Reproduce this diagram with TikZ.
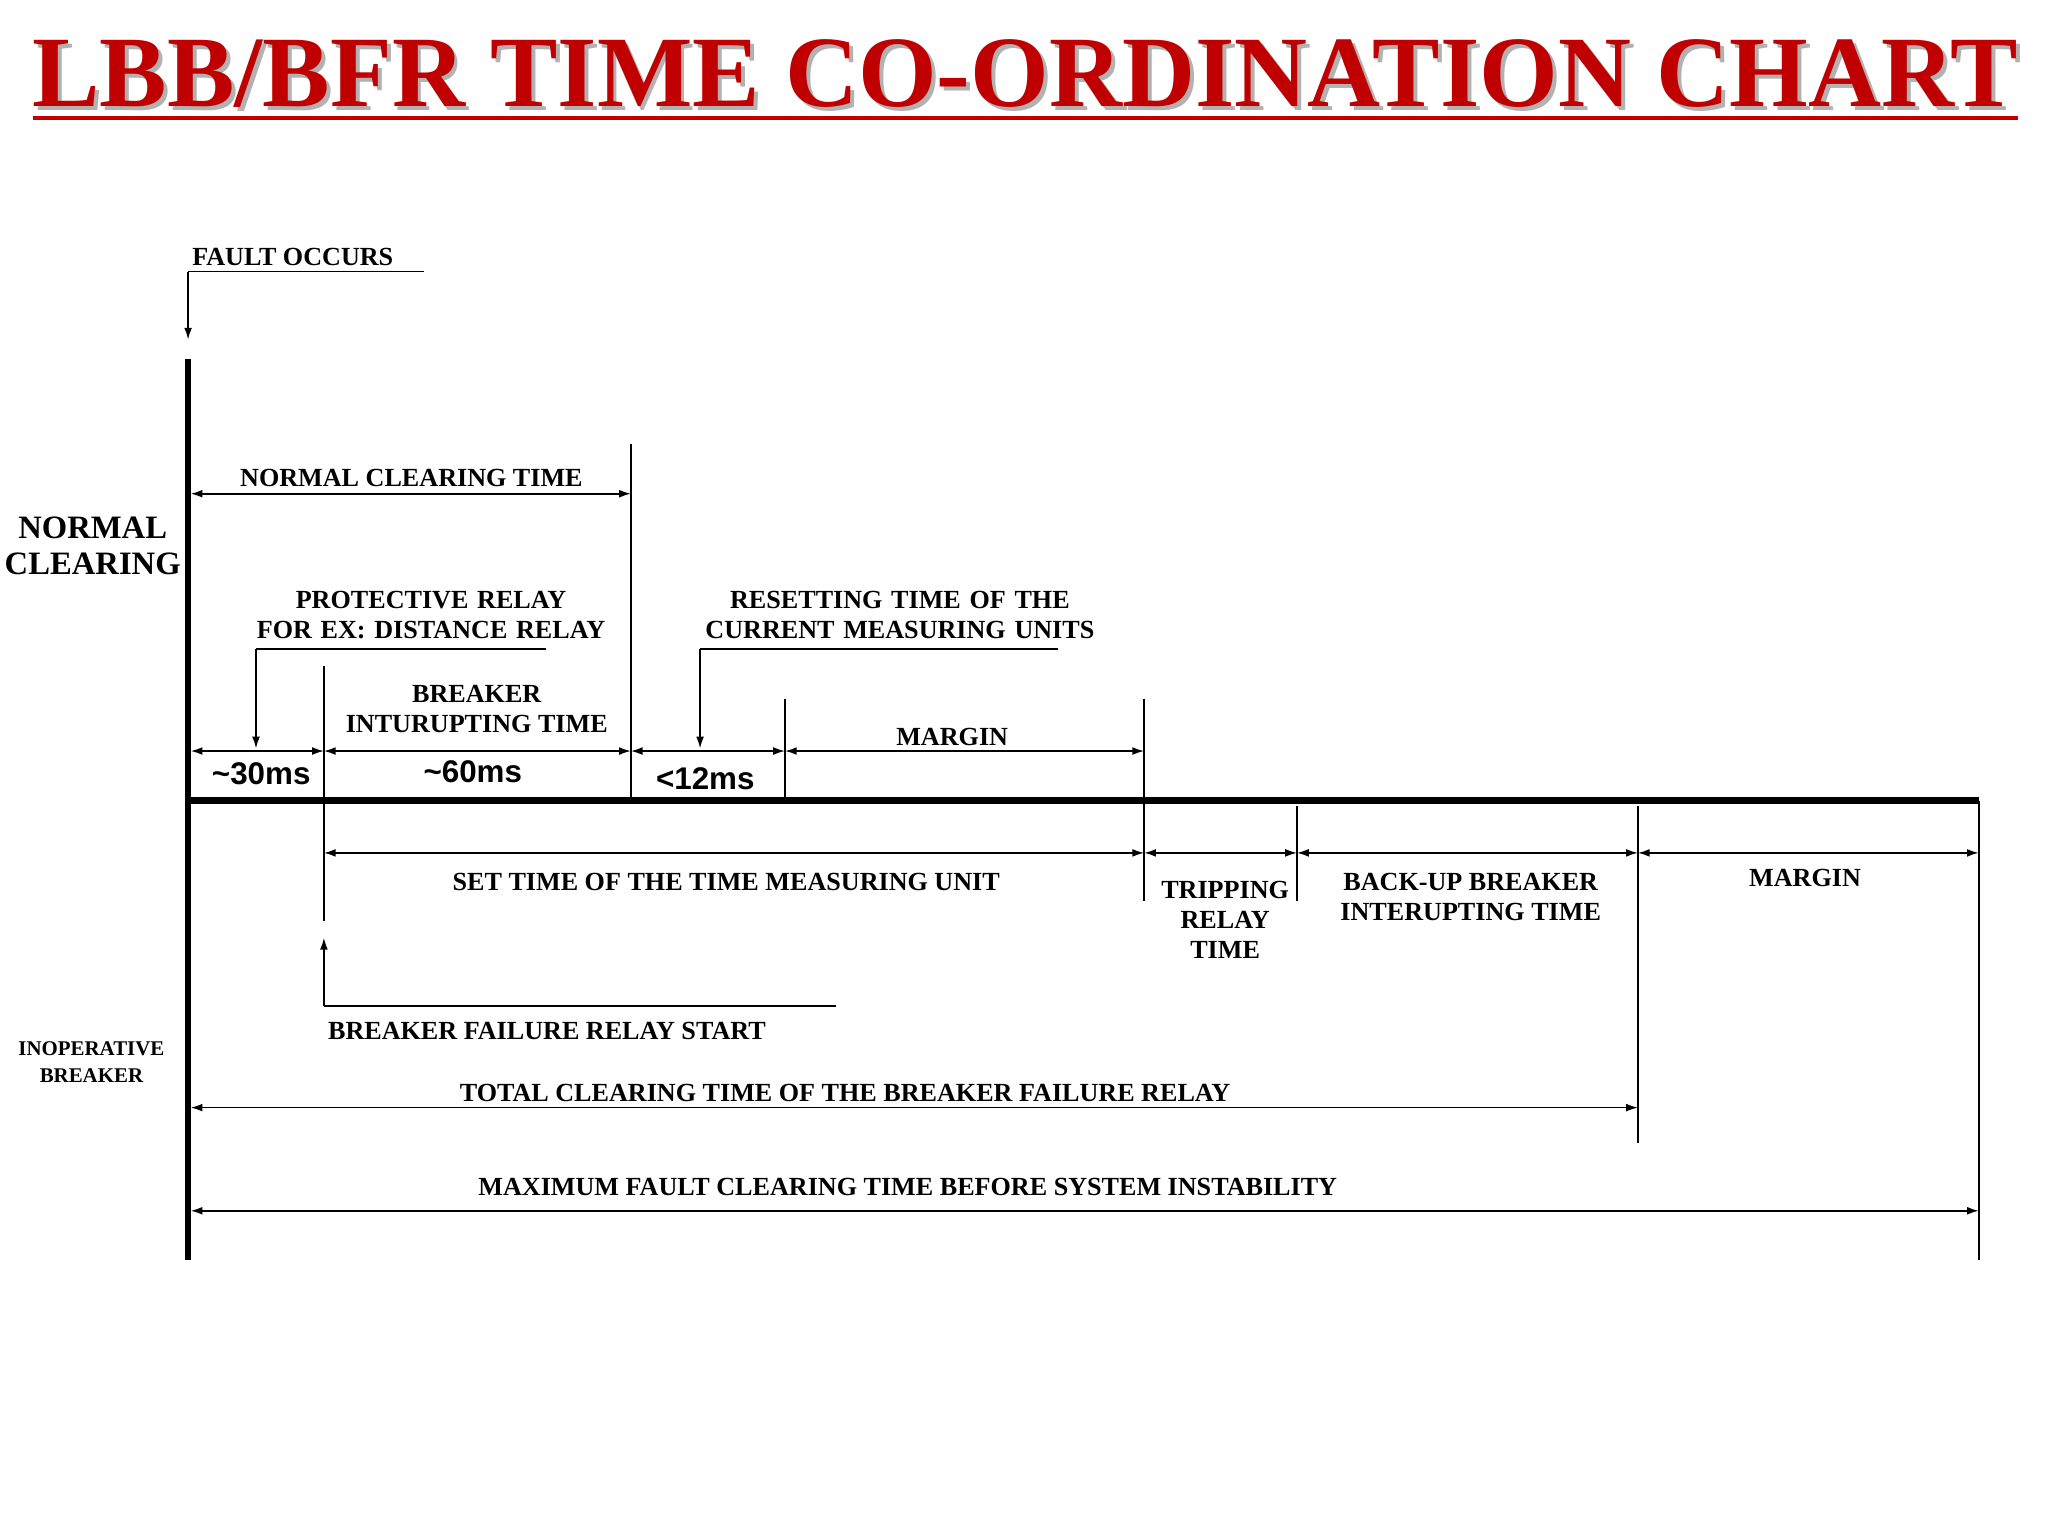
\documentclass[tikz,border=0pt]{standalone}
\usepackage{fontspec}
\setmainfont{Liberation Serif}
\newfontfamily\arialf{Liberation Sans}
\usetikzlibrary{arrows.meta}
\definecolor{tred}{RGB}{192,0,0}
\begin{document}
\begin{tikzpicture}[x=1pt,y=-1pt,
  dim/.style={{Latex[length=9pt,width=6pt]}-{Latex[length=9pt,width=6pt]},line width=1.2pt},
  one/.style={-{Latex[length=9pt,width=6pt]},line width=1.2pt},
  thin/.style={line width=1.2pt},
  thick/.style={line width=5pt},
  lab/.style={font=\fontsize{20}{23}\selectfont\bfseries,align=center,inner sep=1pt},
  ms/.style={font=\arialf\fontsize{24}{26}\selectfont\bfseries,inner sep=1pt}]
\useasboundingbox (0,0) rectangle (1568,1176);
% title
\node[text=gray!60,anchor=center] at (788,59) {\resizebox{1520pt}{!}{\bfseries LBB/BFR TIME CO-ORDINATION CHART}};
\node (title) [text=tred,anchor=center] at (785,56) {\resizebox{1520pt}{!}{\bfseries LBB/BFR TIME CO-ORDINATION CHART}};
\draw[tred,line width=3pt] (25,90) -- (1545,90);
% coordinates
\coordinate (vt) at (144,275); \coordinate (vb) at (144,965);
\coordinate (h0) at (144,613); \coordinate (h1) at (1515,613);
\draw[thick] (vt) -- (vb);
\draw[thick] (h0) -- (h1);
% thin verticals
\draw[thin] (483,340) -- (483,613);
\draw[thin] (248,510) -- (248,705);
\draw[thin] (601,535) -- (601,613);
\draw[thin] (876,535) -- (876,690);
\draw[thin] (993,617) -- (993,690);
\draw[thin] (1254,617) -- (1254,875);
\draw[thin] (1515,613) -- (1515,965);
% dimension arrows
\draw[dim] (146,378) -- (483,378);
\draw[dim] (146,575) -- (248,575);
\draw[dim] (248,575) -- (483,575);
\draw[dim] (483,575) -- (601,575);
\draw[dim] (601,575) -- (876,575);
\draw[dim] (248,653) -- (876,653);
\draw[dim] (876,653) -- (993,653);
\draw[dim] (993,653) -- (1254,653);
\draw[dim] (1254,653) -- (1515,653);
\draw[dim] (146,848) -- (1254,848);
\draw[dim] (146,927) -- (1515,927);
% callouts
\draw[thin] (325,208) -- (144,208);
\draw[one] (144,208) -- (144,260);
\draw[thin] (418,497) -- (196,497);
\draw[one] (196,497) -- (196,573);
\draw[thin] (810,497) -- (536,497);
\draw[one] (536,497) -- (536,573);
\draw[thin] (640,770) -- (248,770);
\draw[one] (248,770) -- (248,718);
% labels
\node[lab,anchor=west] (fo) at (146,197) {FAULT OCCURS};
\node[lab,font=\fontsize{25}{28}\selectfont\bfseries] (nc) at (71,418) {NORMAL\\CLEARING};
\node[lab] (nct) at (315,366) {NORMAL CLEARING TIME};
\node[lab,text width=320pt] (pr) at (330,471) {PROTECTIVE RELAY\\FOR EX: DISTANCE RELAY};
\node[lab] (bi) at (365,543) {BREAKER\\INTURUPTING TIME};
\node[lab,text width=340pt] (rt) at (689,471) {RESETTING TIME OF THE\\CURRENT MEASURING UNITS};
\node[lab] (m1) at (729,564) {MARGIN};
\node[ms] (t30) at (200,592) {\textasciitilde30ms};
\node[ms] (t60) at (362,591) {\textasciitilde60ms};
\node[ms] (t12) at (540,596) {<12ms};
\node[lab] (st) at (556,675) {SET TIME OF THE TIME MEASURING UNIT};
\node[lab] (tr) at (938,704) {TRIPPING\\RELAY\\TIME};
\node[lab] (bu) at (1126,687) {BACK-UP BREAKER\\INTERUPTING TIME};
\node[lab] (m2) at (1382,672) {MARGIN};
\node[lab,anchor=west] (bf) at (250,789) {BREAKER FAILURE RELAY START};
\node[lab,font=\fontsize{16}{21}\selectfont\bfseries] (ib) at (70,813) {INOPERATIVE\\BREAKER};
\node[lab] (tc) at (647,837) {TOTAL CLEARING TIME OF THE BREAKER FAILURE RELAY};
\node[lab] (mx) at (695,909) {MAXIMUM FAULT CLEARING TIME BEFORE SYSTEM INSTABILITY};
\end{tikzpicture}
\end{document}
